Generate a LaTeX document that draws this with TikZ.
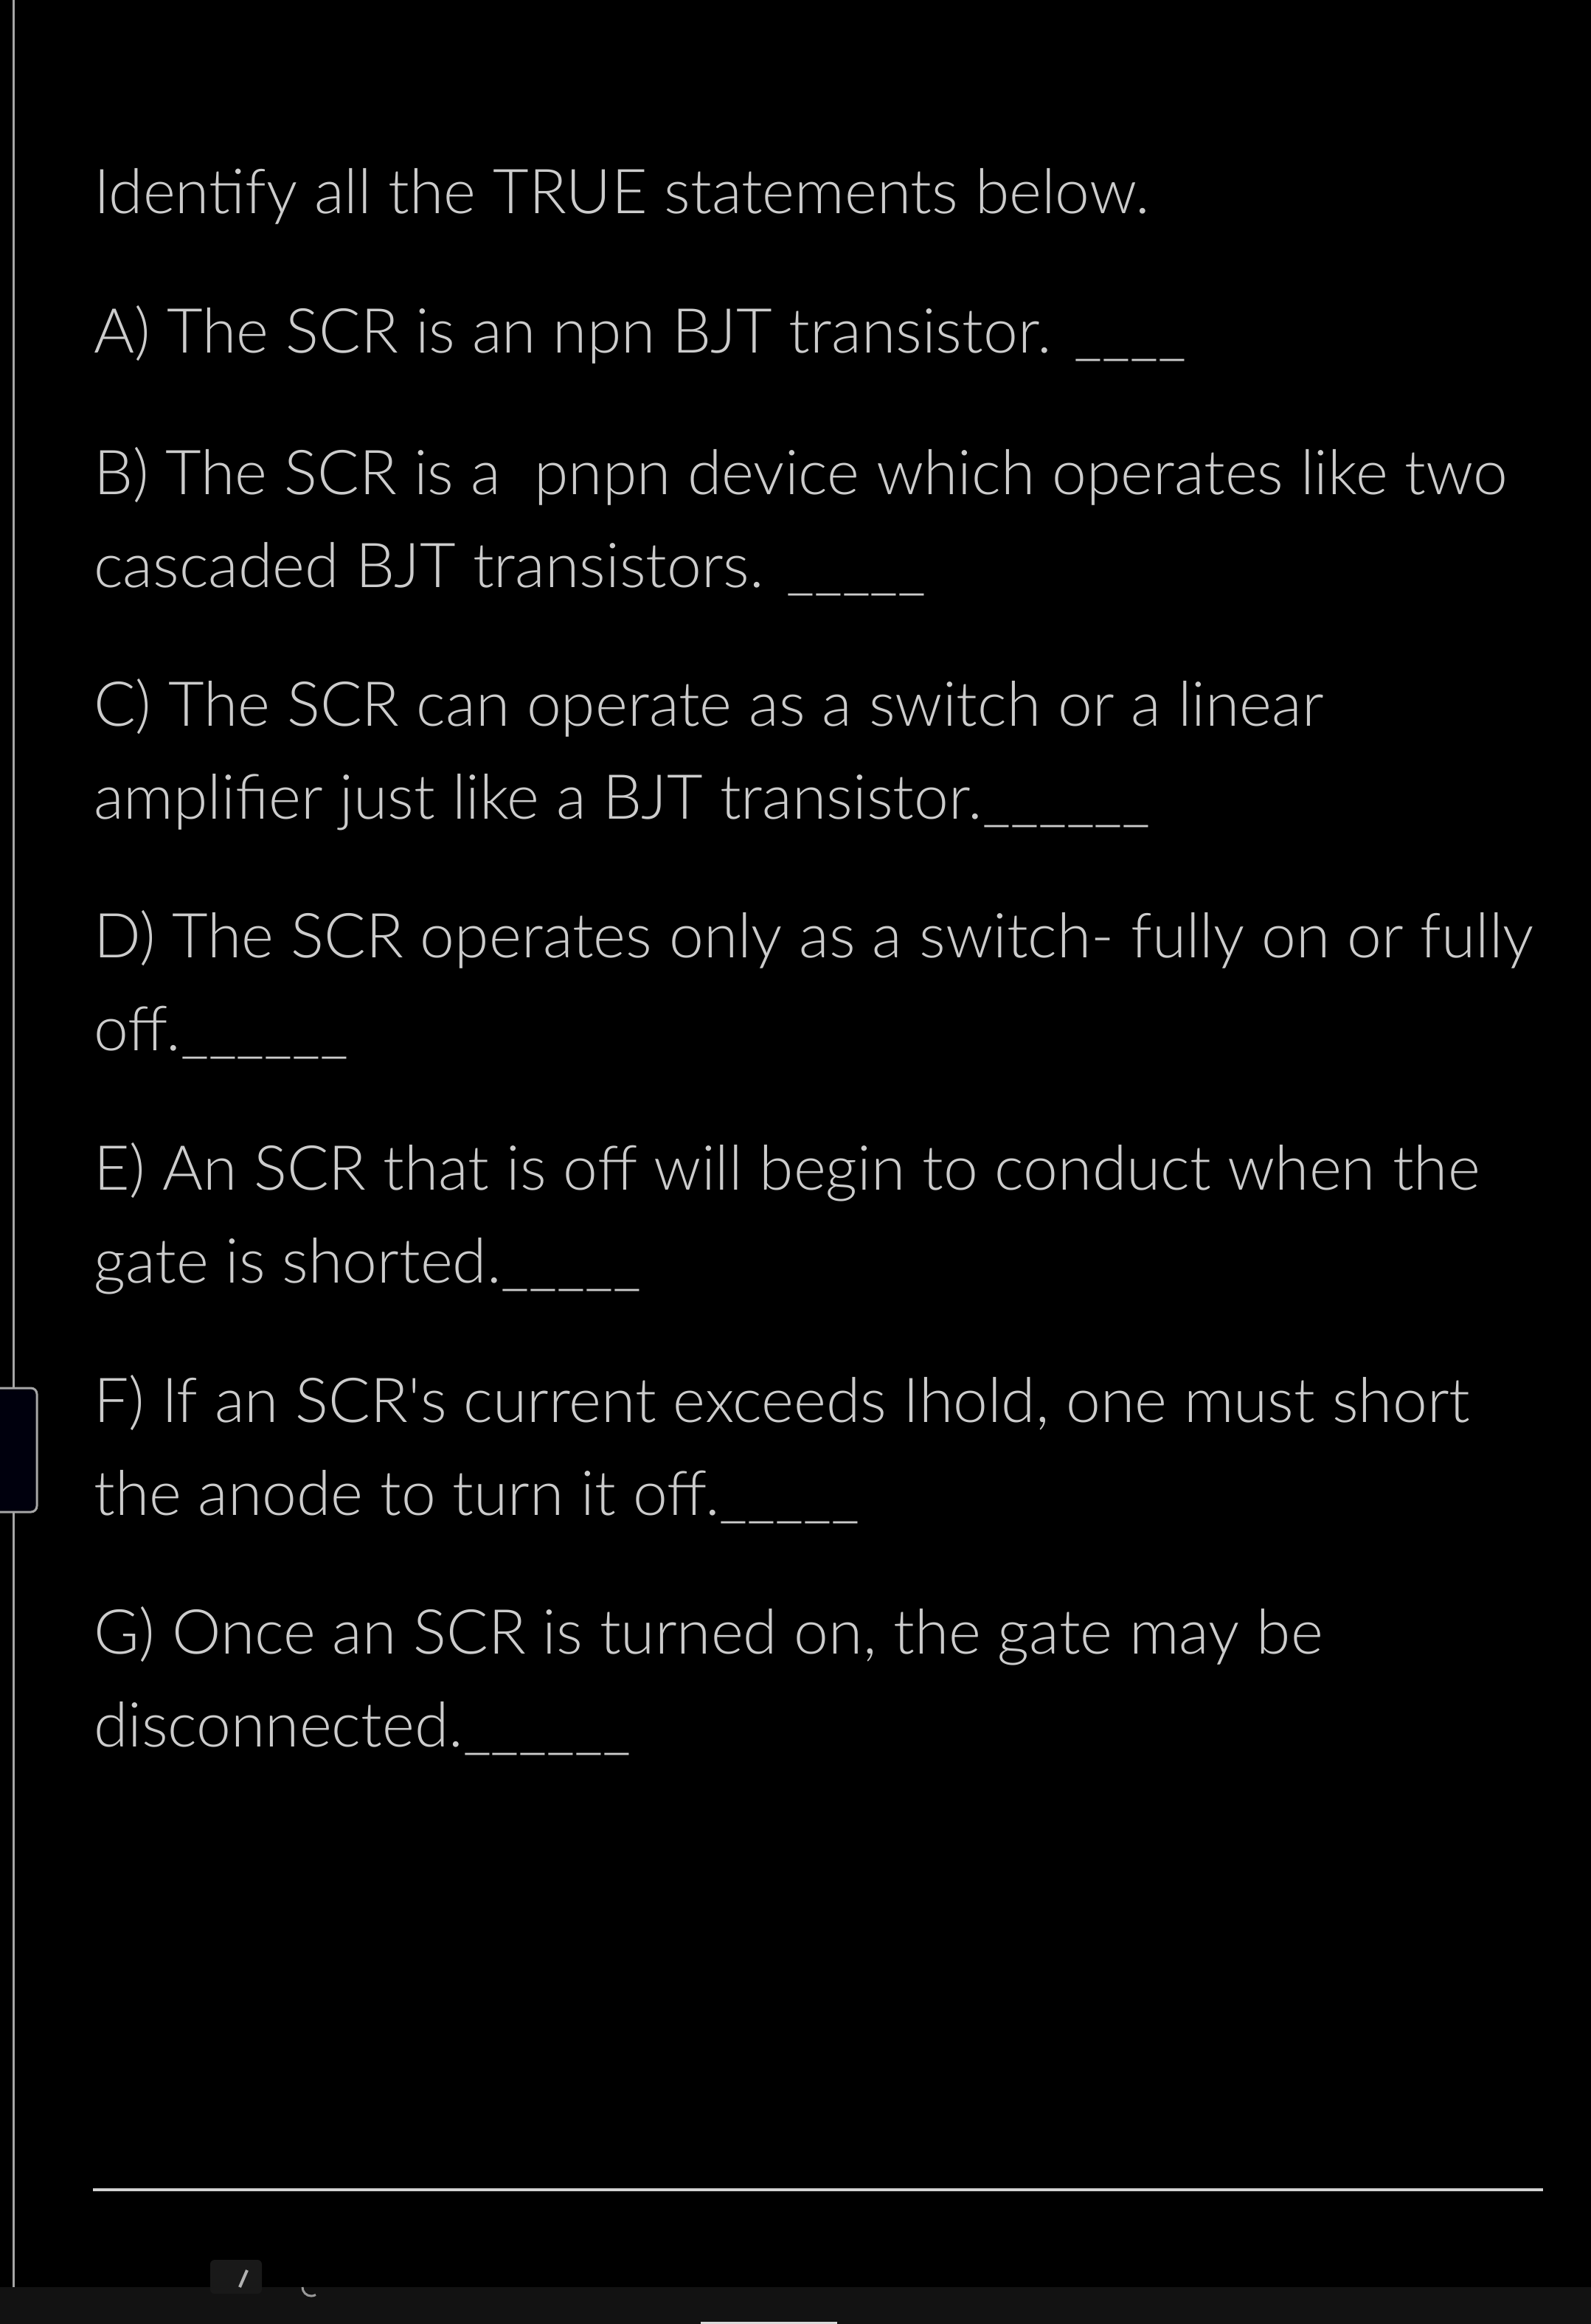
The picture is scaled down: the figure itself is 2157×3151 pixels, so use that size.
\documentclass[tikz,border=0pt]{standalone}
\usepackage{fontspec}
\defaultfontfeatures{}
\setmainfont{Lato}[UprightFont=* Light]
\begin{document}
\begin{tikzpicture}[x=1pt,y=-1pt,
  txt/.style={anchor=base west,text=gray!40!white,font=\fontsize{84}{98}\selectfont,inner sep=0pt}]
\useasboundingbox (0,0) rectangle (2157,3151);
\fill[black] (0,0) rectangle (2157,3151);
\draw[gray!70,line width=3] (18,0) -- (18,3101);
\draw[gray!35,line width=4] (126,2969) -- (2092,2969);
\fill[black!93!white] (0,3101) rectangle (2157,3151);
\fill[gray!30] (950,3148) rectangle (1135,3151);
\fill[black!90!white,rounded corners=6] (285,3064) rectangle (355,3110);
\draw[gray!60,line width=4] (335,3078) -- (325,3101);
\draw[gray!80,line width=3] (410,3101) arc (180:60:12);
\filldraw[draw=gray!70,fill=black!95!blue,line width=3,rounded corners=8] (-20,1882) rectangle (50,2050);
\node[txt] (t0) at (127,289) {Identify all the TRUE statements below.};
\node[txt] (a) at (127,478) {A) The SCR is an npn BJT transistor. \_\_\_\_};
\node[txt] (b1) at (127,670) {B) The SCR is a \ pnpn device which operates like two};
\node[txt] (b2) at (127,796) {cascaded BJT transistors. \_\_\_\_\_};
\node[txt] (c1) at (127,984) {C) The SCR can operate as a switch or a linear};
\node[txt] (c2) at (127,1110) {amplifier just like a BJT transistor.\_\_\_\_\_\_};
\node[txt] (d1) at (127,1298) {D) The SCR operates only as a switch- fully on or fully};
\node[txt] (d2) at (127,1424) {off.\_\_\_\_\_\_};
\node[txt] (e1) at (127,1613) {E) An SCR that is off will begin to conduct when the};
\node[txt] (e2) at (127,1739) {gate is shorted.\_\_\_\_\_};
\node[txt] (f1) at (127,1928) {F) If an SCR\textquotesingle s current exceeds Ihold, one must short};
\node[txt] (f2) at (127,2054) {the anode to turn it off.\_\_\_\_\_};
\node[txt] (g1) at (127,2242) {G) Once an SCR is turned on, the gate may be};
\node[txt] (g2) at (127,2368) {disconnected.\_\_\_\_\_\_};
\end{tikzpicture}
\end{document}
